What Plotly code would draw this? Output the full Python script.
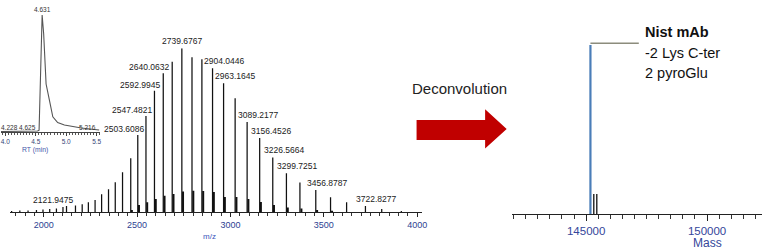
import plotly.graph_objects as go

W, H = 768, 250

# ---------------- data ----------------
# ESI charge-state envelope (m/z, relative intensity %)
mz_peaks = [1828, 1872, 1916, 1961, 1996, 2032, 2068, 2103, 2121.9475, 2170,
            2206, 2239, 2275, 2310, 2347, 2383, 2422, 2466, 2503.6086, 2547.4821,
            2592.9945, 2640.0632, 2688, 2739.6767, 2794, 2847, 2904.0446, 2963.1645, 3025, 3089.2177,
            3156.4526, 3226.5664, 3299.7251, 3372, 3456.8787, 3536, 3622, 3722.8277, 3810, 3915]
intensity = [0.6, 0.9, 0.9, 1.2, 1.5, 1.8, 2.1, 3.0, 3.7, 4.0,
             4.7, 5.9, 7.3, 10.8, 13.9, 18.1, 24.3, 32.8, 47.0, 58.6,
             74.1, 84.7, 91.8, 100, 94.5, 93.3, 87.8, 78.6, 69.5, 55.0,
             45.2, 33.3, 23.6, 18.0, 13.4, 9.0, 5.9, 3.7, 1.8, 0.6]
# minor glycoform shoulders next to the main peaks
mz_shoulder = [2472, 2510, 2554, 2600, 2647, 2695, 2746, 2801, 2854, 2911,
               2970, 3032, 3096, 3163, 3233, 3307, 3380, 3464, 3544]
shoulder_int = [1.2, 4.3, 6.0, 8.0, 10.0, 11.0, 12.5, 13.0, 12.8, 12.2,
                9.2, 9.2, 7.9, 6.1, 4.3, 2.7, 2.1, 1.2, 0.8]
labelled_mz = [2121.9475, 2503.6086, 2547.4821, 2592.9945, 2640.0632, 2739.6767,
               2904.0446, 2963.1645, 3089.2177, 3156.4526, 3226.5664, 3299.7251,
               3456.8787, 3722.8277]

# Inset total ion chromatogram
rt = [3.93, 4.24, 4.53, 4.555, 4.585, 4.605, 4.63, 4.67, 4.725, 4.78, 4.86, 4.97, 5.25, 5.54]
tic = [0.4, 0.8, 0.8, 1.5, 55, 100, 84, 41, 27, 13, 8, 6, 3.4, 1.7]
rt_labels = ["4.631", "4.228", "4.625", "5.216"]
rt_label_pos = [4.605, 4.228, 4.625, 5.216]

# Deconvoluted spectrum
mass = [145177, 145316, 145440]
mass_int = [100, 12, 12]
annot_lines = ["<b>Nist mAb</b>", "-2 Lys C-ter", "2 pyroGlu"]
arrow_text = "Deconvolution"


def px(x):
    return x / W


def py(y):
    return 1 - y / H


def sticks(xs, ys):
    X, Y = [], []
    for a, b in zip(xs, ys):
        X += [a, a, None]
        Y += [0, b, None]
    return X, Y


fig = go.Figure()

# main spectrum
sx, sy = sticks(mz_shoulder, shoulder_int)
fig.add_trace(go.Scatter(x=sx, y=sy, mode="lines", line=dict(color="#111111", width=2.0),
                         hoverinfo="skip", xaxis="x", yaxis="y"))
bx, by = sticks(mz_peaks, intensity)
fig.add_trace(go.Scatter(x=bx, y=by, mode="lines", line=dict(color="#111111", width=1.25),
                         hoverinfo="skip", xaxis="x", yaxis="y"))

# inset chromatogram
fig.add_trace(go.Scatter(x=rt, y=tic, mode="lines", line=dict(color="#555555", width=1.1),
                         hoverinfo="skip", xaxis="x2", yaxis="y2"))

# deconvoluted
dx, dy = sticks(mass[:1], mass_int[:1])
fig.add_trace(go.Scatter(x=dx, y=dy, mode="lines", line=dict(color="#4a7db8", width=2.2),
                         hoverinfo="skip", xaxis="x3", yaxis="y3"))
dx2, dy2 = sticks(mass[1:], mass_int[1:])
fig.add_trace(go.Scatter(x=dx2, y=dy2, mode="lines", line=dict(color="#111111", width=1.3),
                         hoverinfo="skip", xaxis="x3", yaxis="y3"))

tickc = "#2e3f92"
fig.update_layout(
    width=W, height=H, margin=dict(l=0, r=0, t=0, b=0),
    paper_bgcolor="white", plot_bgcolor="rgba(0,0,0,0)", showlegend=False,
    font=dict(family="Liberation Sans, Arial, sans-serif", color="#222222"),
    xaxis=dict(domain=[px(10), px(425)], range=[1819, 4027], anchor="y",
               showline=True, linecolor="#222222", linewidth=1, showgrid=False, zeroline=False,
               ticks="outside", ticklen=4, tickcolor="#222222", dtick=500, tick0=2000,
               tickfont=dict(size=9, color=tickc),
               minor=dict(dtick=50, ticks="outside", ticklen=3, tickcolor="#333333")),
    yaxis=dict(domain=[py(212), py(48.3)], range=[0, 100], visible=False),
    xaxis2=dict(domain=[px(1), px(101)], range=[3.93, 5.56], anchor="y2",
                showline=True, linecolor="#444444", linewidth=1, showgrid=False, zeroline=False,
                ticks="outside", ticklen=3, tickcolor="#444444", dtick=0.5, tick0=4.0,
                tickformat=".1f", tickfont=dict(size=6.5, color="#334477"),
                minor=dict(dtick=0.05, ticks="outside", ticklen=2, tickcolor="#555555")),
    yaxis2=dict(domain=[py(132), py(15)], range=[0, 100], visible=False),
    xaxis3=dict(domain=[px(515), px(767)], range=[141919, 152272], anchor="y3",
                showline=True, linecolor="#222222", linewidth=1.2, showgrid=False, zeroline=False,
                ticks="outside", ticklen=6, tickcolor="#222222", dtick=5000, tick0=145000,
                tickformat="d", tickfont=dict(size=11.5, color="#34469a"),
                minor=dict(dtick=500, ticks="outside", ticklen=4, tickcolor="#333333")),
    yaxis3=dict(domain=[py(214.3), py(41.6)], range=[0, 102], visible=False),
)

ann = []
# peak labels on the charge envelope
for m in labelled_mz:
    h = intensity[mz_peaks.index(m)]
    txt = f"{m:.4f}"
    if m < 2700:
        ann.append(dict(x=m, y=h, xref="x", yref="y", text=txt, showarrow=False,
                        xanchor="right", yanchor="middle", xshift=8, yshift=6,
                        font=dict(size=8.5, color="#222222")))
    elif m < 2800:
        ann.append(dict(x=m, y=h, xref="x", yref="y", text=txt, showarrow=False,
                        xanchor="center", yanchor="middle", yshift=7,
                        font=dict(size=8.5, color="#222222")))
    else:
        ann.append(dict(x=m, y=h, xref="x", yref="y", text=txt, showarrow=False,
                        xanchor="left", yanchor="middle", xshift=-11, yshift=7,
                        font=dict(size=8.5, color="#222222")))

# inset labels
ann.append(dict(x=rt_label_pos[0], y=max(tic), xref="x2", yref="y2", text=rt_labels[0],
                showarrow=False, xanchor="center", yanchor="bottom", yshift=0,
                font=dict(size=6.5, color="#333333")))
ann.append(dict(x=rt_label_pos[1], y=0, xref="x2", yref="y2", text=rt_labels[1],
                showarrow=False, xanchor="center", yanchor="middle", xshift=-10, yshift=5,
                font=dict(size=6.5, color="#333333")))
ann.append(dict(x=rt_label_pos[2], y=0, xref="x2", yref="y2", text=rt_labels[2],
                showarrow=False, xanchor="right", yanchor="middle", xshift=-5, yshift=5,
                font=dict(size=6.5, color="#333333")))
ann.append(dict(x=rt_label_pos[3], y=0, xref="x2", yref="y2", text=rt_labels[3],
                showarrow=False, xanchor="left", yanchor="middle", xshift=-2, yshift=5,
                font=dict(size=6.5, color="#333333")))
ann.append(dict(x=px(35), y=py(150), xref="paper", yref="paper", text="RT (min)",
                showarrow=False, xanchor="center", yanchor="middle",
                font=dict(size=6.8, color="#4455aa")))

# axis titles
ann.append(dict(x=px(211), y=py(236), xref="paper", yref="paper", text="m/z",
                showarrow=False, xanchor="center", yanchor="middle",
                font=dict(size=8, color="#3a55bb")))
ann.append(dict(x=px(711.7), y=py(243.3), xref="paper", yref="paper", text="Mass",
                showarrow=False, xanchor="center", yanchor="middle",
                font=dict(size=12, color="#34469a")))

# arrow text
ann.append(dict(x=px(462.5), y=py(88.5), xref="paper", yref="paper", text=arrow_text,
                showarrow=False, xanchor="center", yanchor="middle",
                font=dict(size=15, color="#222222")))

# deconvolution annotation
for i, (t, yy) in enumerate(zip(annot_lines, [32.3, 52.7, 72.7])):
    ann.append(dict(x=px(647), y=py(yy), xref="paper", yref="paper", text=t,
                    showarrow=False, xanchor="left", yanchor="middle",
                    font=dict(size=14.5, color="#111111")))

fig.update_layout(annotations=ann)

shapes = []
# leader line from top of main deconvoluted peak
shapes.append(dict(type="line", xref="x3", yref="y3", x0=mass[0], x1=mass[0] + 2000,
                   y0=mass_int[0] + 1, y1=mass_int[0] + 1,
                   line=dict(color="#8c8c7c", width=1.5)))
# block arrow
ax0, ax1, ax2 = 419.3, 488.3, 510
ay_bt, ay_bb, ay_ht, ay_hb, ay_tip = 120, 140, 109.3, 148.5, 129
path = (f"M {px(ax0)},{py(ay_bt)} L {px(ax1)},{py(ay_bt)} L {px(ax1)},{py(ay_ht)} "
        f"L {px(ax2)},{py(ay_tip)} L {px(ax1)},{py(ay_hb)} L {px(ax1)},{py(ay_bb)} "
        f"L {px(ax0)},{py(ay_bb)} Z")
shapes.append(dict(type="path", xref="paper", yref="paper", path=path,
                   fillcolor="#c00000", line=dict(width=0)))
fig.update_layout(shapes=shapes)

fig.write_html("out.html")
